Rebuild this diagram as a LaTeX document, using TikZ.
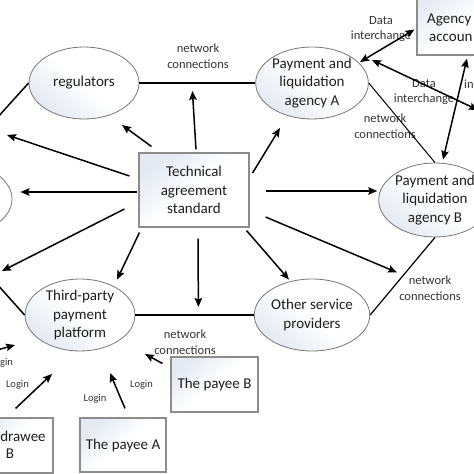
\documentclass[tikz,border=0pt]{standalone}
\usepackage{fontspec}
\setmainfont{Carlito}
\usetikzlibrary{shapes.geometric,arrows.meta,calc}
\definecolor{edgegray}{HTML}{777777}
\definecolor{boxgray}{HTML}{8C8C8C}
\definecolor{tint}{HTML}{E4E9F2}
\definecolor{txt}{HTML}{1E1E1E}
\definecolor{lbltxt}{HTML}{333333}
\begin{document}
\begin{tikzpicture}[x=1pt,y=-1pt,
  ell/.style={ellipse, draw=edgegray, line width=0.8pt, top color=white, bottom color=tint, middle color=white, shading angle=-40,
    minimum width=110pt, minimum height=72pt, inner sep=0pt, align=center, text=txt,
    font=\fontsize{15}{18.5}\selectfont},
  boxnode/.style={rectangle, draw=boxgray, line width=1.1pt, top color=tint, bottom color=white, middle color=white, shading angle=40,
    inner sep=0pt, align=center, text=txt, font=\fontsize{15}{18.5}\selectfont},
  plain/.style={inner sep=0pt, text=txt, font=\fontsize{15}{18.5}\selectfont},
  lbl/.style={inner sep=0pt, align=center, text=lbltxt, font=\fontsize{12.5}{15.5}\selectfont},
  loginlbl/.style={inner sep=0pt, text=lbltxt, font=\fontsize{10.5}{12}\selectfont},
  conn/.style={line width=1.5pt},
  arr/.style={line width=1.5pt, -{Stealth[length=9pt,width=7.5pt,inset=1.5pt]}},
  darr/.style={line width=1.5pt, {Stealth[length=9pt,width=7.5pt,inset=1.5pt]}-{Stealth[length=9pt,width=7.5pt,inset=1.5pt]}}
]
\useasboundingbox (0,0) rectangle (474,474);
\clip (0,0) rectangle (474,474);

% nodes
\node[ell] (reg) at (84,83) {regulators};
\node[ell] (agA) at (312,83) {Payment and\\liquidation\\agency A};
\node[ell, minimum height=74pt] (agB) at (435,200) {Payment and\\liquidation\\agency B};
\node[ell] (other) at (312,315) {Other service\\providers};
\node[ell] (third) at (80,315) {Third-party\\payment\\platform};
\node[ell] (leftell) at (-43,199) {};
\node[boxnode, minimum width=110pt, minimum height=74pt] (tech) at (194,190) {Technical\\agreement\\standard};
\node[boxnode, minimum width=113pt, minimum height=75pt] (acct) at (473.5,17.5) {};
\node[plain, anchor=west] (accttxt1) at (427,20) {Agency};
\node[plain, anchor=west] (accttxt2) at (429,38) {accoun};
\node[boxnode, minimum width=87pt, minimum height=55pt] (payeeB) at (214.5,384.5) {The payee B};
\node[boxnode, minimum width=86pt, minimum height=54pt] (payeeA) at (123,445) {The payee A};
\node[boxnode, minimum width=90pt, minimum height=55pt] (drawee) at (8,445.5) {};
\node[plain] (dwtxt1) at (23,436) {drawee};
\node[plain] (dwtxt2) at (10,454) {B};

% labels
\node[lbl] (l1) at (198,56) {network\\connections};
\node[lbl] (l2) at (381,29) {Data\\interchange};
\node[lbl] (l3) at (424,92) {Data\\interchange};
\node[lbl] (l4) at (385,126) {network\\connections};
\node[lbl] (l5) at (430,288) {network\\connections};
\node[lbl] (l6) at (185,342) {network\\connections};
\node[lbl, anchor=west] (l7) at (464,84) {in};
\node[loginlbl] (lg1) at (141.5,385) {Login};
\node[loginlbl] (lg2) at (95,399) {Login};
\node[loginlbl] (lg3) at (17.5,385) {Login};
\node[loginlbl] (lg4) at (6.5,363) {gin};

% free ends
\coordinate (offR) at (-12,128);
\coordinate (offT) at (-12,274);
\coordinate (offUL) at (7,135);
\coordinate (offLL) at (2,271);
\coordinate (offR2) at (478,110);
\coordinate (offBL) at (-10,352);

% plain connections
\draw[conn] (reg.east) -- (agA.west);
\draw[conn] (third.east) -- (other.west);
\draw[line width=1pt] (agA.east) -- (agB.north);
\draw[line width=1.2pt] (agB.south) -- (other.east);
\draw[conn] (reg.west) -- (offR);
\draw[conn] (third.west) -- (offT);

% arrows from the standard
\draw[arr] ($(tech.north west)+(13,-6)$) -- ($(reg)+(38,42)$);
\draw[arr] ($(tech.north)+(2,-3)$) -- ($(reg.east)+(53,8)$);
\draw[arr] ($(tech.west)+(-9,-14)$) -- (offUL);
\draw[arr] ($(tech.west)+(-1,2)$) -- ($(leftell.east)+(8,-7)$);
\draw[arr] ($(tech.west)+(-14,19)$) -- (offLL);
\draw[arr] ($(tech.south west)+(1,5)$) -- ($(third.north)+(37,1)$);
\draw[arr] ($(tech.south)+(4,11)$) -- ($(third.east)+(63,-8)$);
\draw[arr] ($(tech.south east)+(-3,3)$) -- ($(other.north)+(-23,1)$);
\draw[arr] ($(tech.east)+(16,27)$) -- ($(agB.south)+(-38,35)$);
\draw[arr] ($(tech.east)+(16,1)$) -- ($(agB.west)+(-1,-9)$);
\draw[arr] ($(tech.east)+(3,-17)$) -- ($(agA)+(-32,45)$);

% data interchange
\draw[darr] ($(agA)+(48,-21)$) -- ($(acct.south west)+(-2,-26)$);
\draw[darr] ($(agA)+(60,-23)$) -- (offR2);
\draw[darr] ($(acct.south)+(-6.5,3)$) -- ($(agB.north)+(8,-3)$);

% logins
\draw[arr] ($(payeeB.north west)+(-8,7)$) -- ($(third)+(65,39)$);
\draw[arr] ($(payeeA.north)+(2,-9)$) -- ($(third)+(30,58)$);
\draw[arr] ($(drawee.north east)+(-38,-9)$) -- ($(third)+(-28,59)$);
\draw[arr] (offBL) -- ($(third)+(-65,30)$);
\end{tikzpicture}
\end{document}
